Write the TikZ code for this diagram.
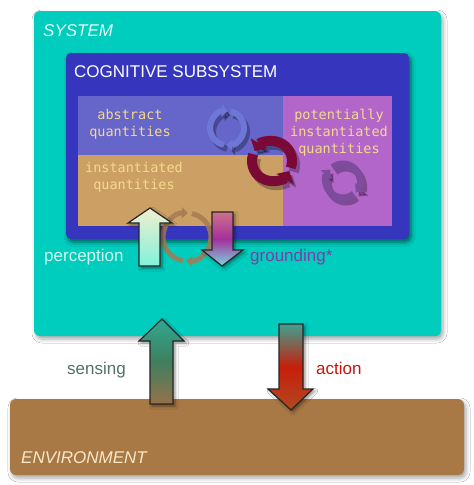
\documentclass[tikz,border=0pt]{standalone}
\usepackage{fontspec}
\setmainfont{Liberation Sans}
\newfontfamily\monof{DejaVu Sans Mono}
\usetikzlibrary{arrows.meta,shadows.blur}
\definecolor{sysc}{HTML}{00CDBE}
\definecolor{cogc}{HTML}{3535BD}
\definecolor{absc}{HTML}{6565CA}
\definecolor{instc}{HTML}{CCA065}
\definecolor{potc}{HTML}{B266C9}
\definecolor{envc}{HTML}{A87845}
\definecolor{qtytext}{HTML}{F5D98C}
\definecolor{syslbl}{HTML}{E4FBF6}
\definecolor{envlbl}{HTML}{FAE8C8}
\definecolor{perclbl}{HTML}{CFF7EE}
\definecolor{grndlbl}{HTML}{7A3FA8}
\definecolor{senslbl}{HTML}{4F7363}
\definecolor{actlbl}{HTML}{C8140A}
\definecolor{ringblue}{HTML}{6E76D6}
\definecolor{ringmar}{HTML}{7A0A35}
\definecolor{ringpur}{HTML}{7E4C9C}
\definecolor{ringbrn}{HTML}{A57B52}
\begin{document}
\begin{tikzpicture}[x=1pt,y=-1pt,
  box/.style={anchor=north west, inner sep=0pt, outer sep=0pt},
  softshadow/.style={blur shadow={shadow xshift=2pt,shadow yshift=-3pt,shadow blur radius=4pt,shadow opacity=35}},
  lbl/.style={inner sep=0pt, anchor=base west, font=\fontsize{17}{20}\selectfont},
  qty/.style={inner sep=0pt, anchor=base, text=qtytext, font=\monof\fontsize{13.5}{16}\selectfont},
  blk/.style={draw=black!85, line width=1.2pt, line join=miter,
    blur shadow={shadow xshift=2pt,shadow yshift=-2pt,shadow blur radius=3pt,shadow opacity=45}},
  ringS/.style={line width=6pt, -{Triangle[width=12pt,length=6pt]}},
  ringL/.style={line width=10pt, -{Triangle[width=19pt,length=9pt]}},
  ringM/.style={line width=7pt, -{Triangle[width=13pt,length=7pt]}},
  ringB/.style={line width=5pt, -{Triangle[width=11pt,length=6pt]}},
]
\useasboundingbox[fill=white] (0,0) rectangle (474,485);

% boxes
\node[box, fill=sysc, rounded corners=6pt, minimum width=407pt, minimum height=325pt, softshadow] (system) at (34,11) {};
\node[box, fill=envc, rounded corners=6pt, minimum width=454pt, minimum height=76pt, softshadow] (env) at (10,399) {};
\node[box, fill=cogc, rounded corners=5pt, minimum width=343pt, minimum height=186pt,
  blur shadow={shadow xshift=2pt,shadow yshift=-3pt,shadow blur radius=4pt,shadow opacity=55}] (cog) at (66,53) {};
\node[box, fill=absc, minimum width=205pt, minimum height=59pt] (abs) at (78,96) {};
\node[box, fill=instc, minimum width=205pt, minimum height=71pt] (inst) at (78,155) {};
\node[box, fill=potc, minimum width=109pt, minimum height=130pt] (pot) at (283,96) {};

% box labels
\node[lbl, text=syslbl, font=\itshape\fontsize{17}{20}\selectfont] (syslab) at (43,36) {SYSTEM};
\node[lbl, text=white] (coglab) at (74,77) {COGNITIVE SUBSYSTEM};
\node[lbl, text=envlbl, font=\itshape\fontsize{17}{20}\selectfont] (envlab) at (21,463) {ENVIRONMENT};

\node[qty] (abs1) at (130,119) {abstract};
\node[qty] (abs2) at (130,136) {quantities};
\node[qty] (ins1) at (134,172) {instantiated};
\node[qty] (ins2) at (134,189) {quantities};
\node[qty] (pot1) at (339,119) {potentially};
\node[qty] (pot2) at (339,136) {instantiated};
\node[qty] (pot3) at (339,153) {quantities};

% ring arrows (shadow copies first)
\begin{scope}[shift={(3,4)}, opacity=0.28, black]
  \draw[ringS] (227,128) ++(100:17) arc[start angle=100,end angle=272,radius=17];
  \draw[ringS] (227,128) ++(282:17) arc[start angle=282,end angle=452,radius=17];
  \draw[ringL] (272,161) ++(20:20) arc[start angle=20,end angle=-150,radius=20];
  \draw[ringL] (272,161) ++(200:20) arc[start angle=200,end angle=30,radius=20];
  \draw[ringM] (343,181) ++(50:17) arc[start angle=50,end angle=222,radius=17];
  \draw[ringM] (343,181) ++(232:17) arc[start angle=232,end angle=402,radius=17];
\end{scope}
\draw[ringblue, ringS] (227,128) ++(100:17) arc[start angle=100,end angle=272,radius=17];
\draw[ringblue, ringS] (227,128) ++(282:17) arc[start angle=282,end angle=452,radius=17];
\draw[ringmar, ringL] (272,161) ++(20:20) arc[start angle=20,end angle=-150,radius=20];
\draw[ringmar, ringL] (272,161) ++(200:20) arc[start angle=200,end angle=30,radius=20];
\draw[ringpur, ringM] (343,181) ++(50:17) arc[start angle=50,end angle=222,radius=17];
\draw[ringpur, ringM] (343,181) ++(232:17) arc[start angle=232,end angle=402,radius=17];
% brown ring between perception and grounding
\draw[ringbrn, opacity=0.85, ringB] (187,237) ++(100:24) arc[start angle=100,end angle=272,radius=24];
\draw[ringbrn, opacity=0.85, ringB] (187,237) ++(282:24) arc[start angle=282,end angle=452,radius=24];

% block arrows
\path[blk, top color={rgb,255:red,242;green,238;blue,208}, bottom color={rgb,255:red,128;green,242;blue,218}]
  (139,266) -- (160,266) -- (160,223) -- (172,223) -- (150,208) -- (128,223) -- (139,223) -- cycle;
\path[blk, top color={rgb,255:red,206;green,112;blue,140}, bottom color={rgb,255:red,120;green,214;blue,224}, middle color={rgb,255:red,164;green,48;blue,156}]
  (212,212) -- (233,212) -- (233,250) -- (243,250) -- (222,266) -- (202,250) -- (212,250) -- cycle;
\path[blk, top color={rgb,255:red,48;green,168;blue,144}, bottom color={rgb,255:red,152;green,112;blue,72}, middle color={rgb,255:red,62;green,128;blue,96}]
  (150,404) -- (173,404) -- (173,341) -- (184,341) -- (162,319) -- (139,341) -- (150,341) -- cycle;
\path[blk, top color={rgb,255:red,64;green,160;blue,144}, bottom color={rgb,255:red,176;green,74;blue,32}, middle color={rgb,255:red,200;green,30;blue,10}]
  (279,324) -- (303,324) -- (303,389) -- (313,389) -- (291,410) -- (268,389) -- (279,389) -- cycle;

% arrow labels
\node[lbl, text=perclbl] (perc) at (44,261) {perception};
\node[lbl, text=grndlbl] (grnd) at (250,261) {grounding*};
\node[lbl, text=senslbl] (sens) at (67,374) {sensing};
\node[lbl, text=actlbl] (act) at (316,374) {action};
\end{tikzpicture}
\end{document}
